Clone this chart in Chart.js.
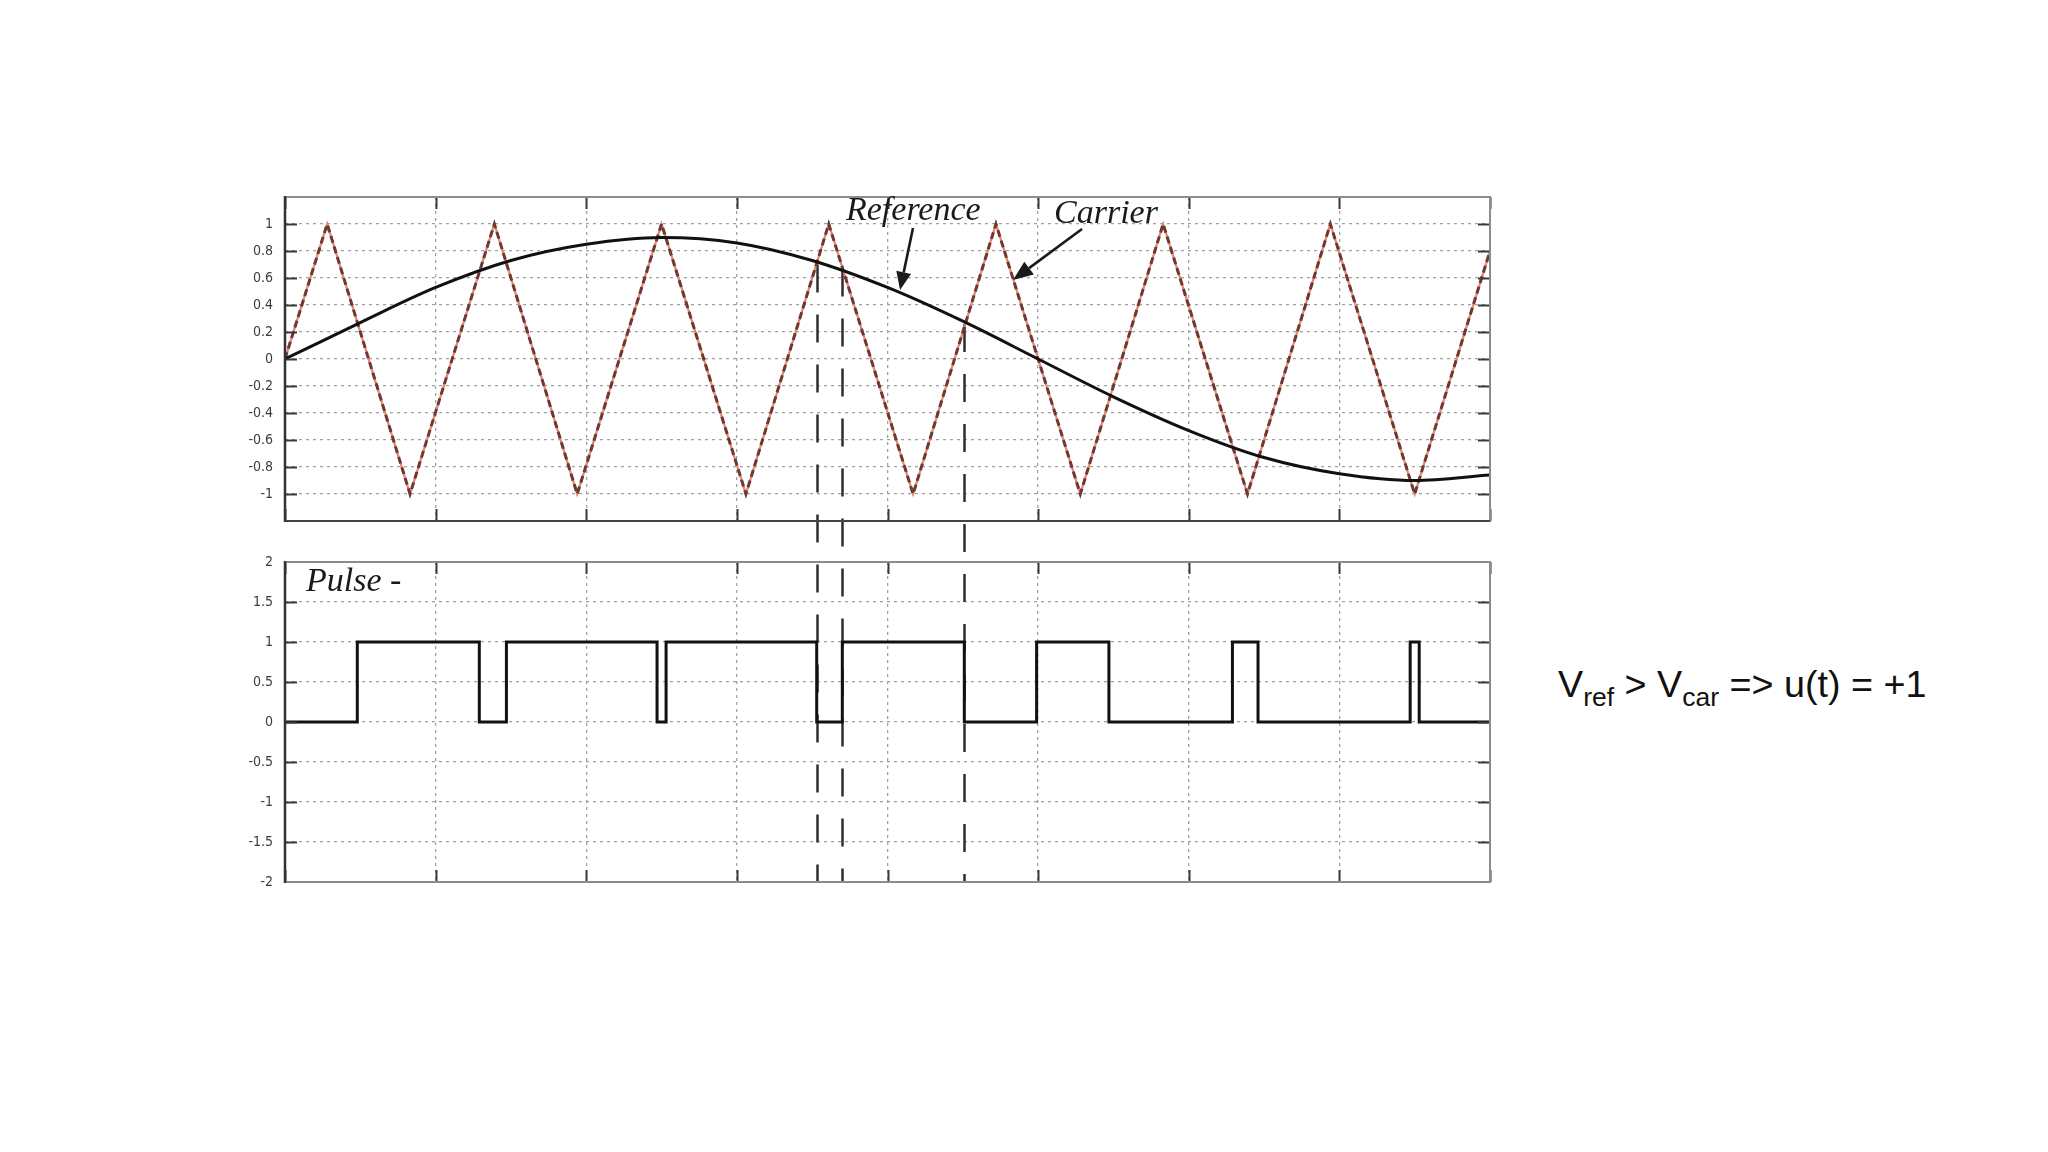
<!DOCTYPE html>
<html>
<head>
<meta charset="utf-8">
<script src="https://cdn.jsdelivr.net/npm/chart.js@4.4.0/dist/chart.umd.min.js"></script>
<style>
html,body{margin:0;padding:0;background:#fff;width:2048px;height:1152px;overflow:hidden;}
canvas{position:absolute;left:200px;}
#c1{top:150px;}
#c2{top:550px;}
#eq{position:absolute;left:1558px;top:665px;font-family:"Liberation Sans",Arial,sans-serif;font-size:37.7px;line-height:38px;color:#111;white-space:nowrap;}
#eq .s{font-size:26.5px;position:relative;top:9px;}
</style>
</head>
<body>
<canvas id="c1" width="1310" height="400"></canvas>
<canvas id="c2" width="1310" height="370"></canvas>
<div id="eq">V<span class="s">ref</span> &gt; V<span class="s">car</span> =&gt; u(t) = +1</div>
<script>
// ---- data ----
const refX = [0,0.5,1,1.5,2,2.5,3,3.5,4,4.5,5,5.5,6,6.5,7,7.5,8];
const refY = [0,0.27,0.53,0.73,0.85,0.90,0.86,0.73,0.53,0.28,0.00,-0.28,-0.53,-0.73,-0.85,-0.90,-0.86];
const carX = [0,0.28,0.83,1.39,1.94,2.50,3.06,3.61,4.17,4.72,5.28,5.83,6.39,6.94,7.50,8];
const carY = [0,1,-1,1,-1,1,-1,1,-1,1,-1,1,-1,1,-1,0.80];
const pulseX = [0,0.48,1.29,1.47,2.47,2.53,3.53,3.70,4.51,4.99,5.47,6.29,6.46,7.47,7.53,8];
const pulseY = [0,1,0,1,0,1,0,1,0,1,0,1,0,1,0,0];
const markX = [3.53,3.70,4.51];
const markY = [0.70,0.67,0.26];
const xRange = [0,8];
const topRange = [-1.2,1.2];
const topStep = 0.2;
const botRange = [-2,2];
const botStep = 0.5;
const labelReference = "Reference";
const labelCarrier = "Carrier";
const labelPulse = "Pulse -";

const pts = (xs, ys) => xs.map((x,i)=>({x:x, y:ys[i]}));
const tickFont = {family:'"Liberation Sans Narrow","DejaVu Sans Condensed","Liberation Sans",sans-serif', size:14};
const annFont = 'italic 34px "Liberation Serif","DejaVu Serif",serif';
const DASH_ON = 28, DASH_OFF = 22;

function frameAndTicks(chart, leftColor, bottomColor, yMaxLabel) {
  const ctx = chart.ctx, ca = chart.chartArea;
  const xs = chart.scales.x, ys = chart.scales.y;
  ctx.save();
  ctx.setLineDash([]);
  ctx.strokeStyle = '#3a3a3a';
  ctx.lineWidth = 2;
  const L = 12;
  ys.ticks.forEach(t => {
    if (Math.abs(t.value) > yMaxLabel + 1e-6) return;
    const y = Math.round(ys.getPixelForValue(t.value)) + 0.5;
    ctx.beginPath();
    ctx.moveTo(ca.left, y); ctx.lineTo(ca.left + L, y);
    ctx.moveTo(ca.right, y); ctx.lineTo(ca.right - L, y);
    ctx.stroke();
  });
  xs.ticks.forEach(t => {
    const x = Math.round(xs.getPixelForValue(t.value)) + 0.5;
    ctx.beginPath();
    ctx.moveTo(x, ca.bottom); ctx.lineTo(x, ca.bottom - L);
    ctx.moveTo(x, ca.top); ctx.lineTo(x, ca.top + L);
    ctx.stroke();
  });
  ctx.strokeStyle = '#8c8c8c';
  ctx.lineWidth = 2;
  ctx.strokeRect(ca.left, ca.top, ca.right - ca.left, ca.bottom - ca.top);
  ctx.strokeStyle = bottomColor;
  ctx.beginPath(); ctx.moveTo(ca.left, ca.bottom); ctx.lineTo(ca.right, ca.bottom); ctx.stroke();
  ctx.strokeStyle = leftColor;
  ctx.lineWidth = 2.5;
  ctx.beginPath(); ctx.moveTo(ca.left, ca.top - 1); ctx.lineTo(ca.left, ca.bottom + 1); ctx.stroke();
  ctx.restore();
}

function arrow(ctx, x1, y1, x2, y2, hl, hw) {
  const a = Math.atan2(y2 - y1, x2 - x1);
  const bx = x2 - hl * Math.cos(a), by = y2 - hl * Math.sin(a);
  ctx.beginPath(); ctx.moveTo(x1, y1); ctx.lineTo(bx, by); ctx.stroke();
  ctx.beginPath();
  ctx.moveTo(x2, y2);
  ctx.lineTo(bx + hw/2 * Math.sin(a), by - hw/2 * Math.cos(a));
  ctx.lineTo(bx - hw/2 * Math.sin(a), by + hw/2 * Math.cos(a));
  ctx.closePath(); ctx.fill();
}

const gridCommon = {color:'#a0a0a0', lineWidth:1.3, drawTicks:false};
const borderCommon = {display:false, dash:[3,4]};
const fitY = s => { s.width = 85; s.paddingTop = 0; s.paddingBottom = 0; };
const fitX = s => { s.height = 0; s.paddingLeft = 0; s.paddingRight = 0; };

const topDecor = {
  id:'topDecor',
  beforeDatasetsDraw(chart) {
    const ctx = chart.ctx, xs = chart.scales.x, ys = chart.scales.y;
    ctx.save();
    ctx.strokeStyle = '#2e2e2e';
    ctx.lineWidth = 2.5;
    ctx.setLineDash([DASH_ON, DASH_OFF]);
    markX.forEach((mx, i) => {
      const x = Math.round(xs.getPixelForValue(mx)) + 0.5;
      const y0 = ys.getPixelForValue(markY[i]);
      ctx.lineDashOffset = 0;
      ctx.beginPath(); ctx.moveTo(x, y0); ctx.lineTo(x, chart.height); ctx.stroke();
    });
    ctx.restore();
  },
  afterDraw(chart) {
    frameAndTicks(chart, '#333', '#444', 1);
    const ctx = chart.ctx, ca = chart.chartArea;
    ctx.save();
    ctx.fillStyle = '#1a1a1a';
    ctx.strokeStyle = '#1a1a1a';
    ctx.font = annFont;
    ctx.textBaseline = 'alphabetic';
    ctx.fillText(labelReference, ca.left + 561, ca.top + 23);
    ctx.fillText(labelCarrier, ca.left + 769, ca.top + 26);
    ctx.lineWidth = 2.6;
    arrow(ctx, ca.left + 628, ca.top + 31, ca.left + 615, ca.top + 93, 18, 15);
    arrow(ctx, ca.left + 797, ca.top + 32, ca.left + 728, ca.top + 83, 20, 16);
    ctx.restore();
  }
};

const topChart = new Chart(document.getElementById('c1'), {
  type:'line',
  data:{datasets:[
    {label:'Reference', data:pts(refX, refY), borderColor:'#111', borderWidth:3, pointRadius:0, cubicInterpolationMode:'monotone', fill:false},
    {label:'Carrier', data:pts(carX, carY), borderColor:'#6a3a35', borderWidth:3, borderDash:[7,4], pointRadius:0, tension:0, fill:false},
    {label:'Carrier base', data:pts(carX, carY), borderColor:'#ee7f68', borderWidth:2.2, pointRadius:0, tension:0, fill:false}
  ]},
  options:{
    responsive:false, animation:false,
    layout:{padding:{left:0,right:20,top:47,bottom:29}, autoPadding:false},
    plugins:{legend:{display:false}, tooltip:{enabled:false}},
    scales:{
      x:{type:'linear', min:xRange[0], max:xRange[1], ticks:{display:false, stepSize:1},
         grid:gridCommon, border:borderCommon, afterFit:fitX},
      y:{type:'linear', min:topRange[0], max:topRange[1],
         ticks:{stepSize:topStep, padding:12, color:'#3c3c3c', font:tickFont,
                callback:v=> Math.abs(v) > 1.0001 ? '' : String(Math.round(v*10)/10)},
         grid:gridCommon, border:borderCommon, afterFit:fitY}
    }
  },
  plugins:[topDecor]
});

const botDecor = {
  id:'botDecor',
  beforeDatasetsDraw(chart) {
    const ctx = chart.ctx, xs = chart.scales.x, ca = chart.chartArea;
    const tys = topChart.scales.y, th = topChart.height;
    ctx.save();
    ctx.strokeStyle = '#2e2e2e';
    ctx.lineWidth = 2.5;
    ctx.setLineDash([DASH_ON, DASH_OFF]);
    markX.forEach((mx, i) => {
      const x = Math.round(xs.getPixelForValue(mx)) + 0.5;
      const y0 = tys.getPixelForValue(markY[i]);
      ctx.lineDashOffset = (th - y0) % (DASH_ON + DASH_OFF);
      ctx.beginPath(); ctx.moveTo(x, 0); ctx.lineTo(x, ca.bottom); ctx.stroke();
    });
    ctx.restore();
  },
  afterDraw(chart) {
    frameAndTicks(chart, '#333', '#8c8c8c', 1.5);
    const ctx = chart.ctx, ca = chart.chartArea;
    ctx.save();
    ctx.fillStyle = '#1a1a1a';
    ctx.font = annFont;
    ctx.fillText(labelPulse, ca.left + 21, ca.top + 29);
    ctx.restore();
  }
};

const botChart = new Chart(document.getElementById('c2'), {
  type:'line',
  data:{datasets:[
    {label:'Pulse', data:pts(pulseX, pulseY), borderColor:'#111', borderWidth:3, pointRadius:0, stepped:'before', fill:false}
  ]},
  options:{
    responsive:false, animation:false,
    layout:{padding:{left:0,right:20,top:12,bottom:38}, autoPadding:false},
    plugins:{legend:{display:false}, tooltip:{enabled:false}},
    scales:{
      x:{type:'linear', min:xRange[0], max:xRange[1], ticks:{display:false, stepSize:1},
         grid:gridCommon, border:borderCommon, afterFit:fitX},
      y:{type:'linear', min:botRange[0], max:botRange[1],
         ticks:{stepSize:botStep, padding:12, color:'#3c3c3c', font:tickFont,
                callback:v=> String(Math.round(v*10)/10)},
         grid:gridCommon, border:borderCommon, afterFit:fitY}
    }
  },
  plugins:[botDecor]
});
</script>
</body>
</html>
